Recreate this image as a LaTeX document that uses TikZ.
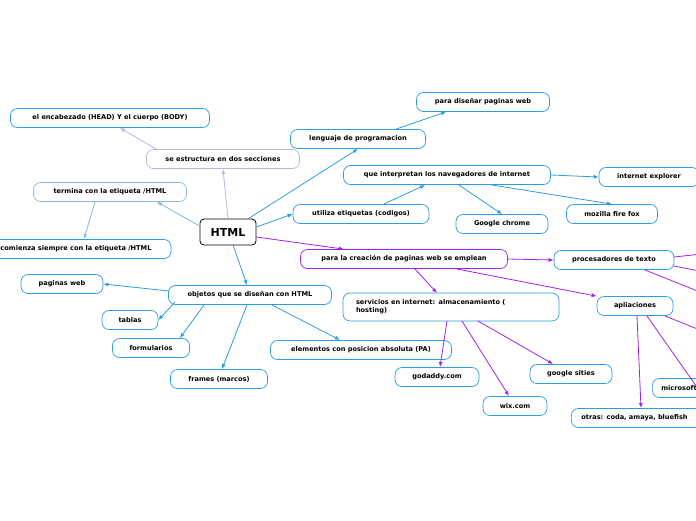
\documentclass[tikz,border=0pt]{standalone}
\usepackage{fontspec}
\setmainfont{DejaVu Sans}
\usetikzlibrary{arrows.meta}
\definecolor{bl}{HTML}{2E9BE0}
\definecolor{lb}{HTML}{86B8E0}
\definecolor{li}{HTML}{BDB4DE}
\definecolor{pu}{HTML}{A020F0}
\tikzset{
 box/.style={draw=bl,line width=0.7pt,fill=white,rounded corners=7pt,minimum height=19pt,inner sep=1pt,font=\bfseries\fontsize{6.6}{7.8}\selectfont,text=black},
 pbox/.style={box,draw=pu},
 lbox/.style={box,draw=li},
 ar/.style={-{Latex[length=5pt,width=4pt]},line width=0.8pt,draw=bl},
 arp/.style={ar,draw=pu},
 arl/.style={ar,draw=li},
 arb/.style={ar,draw=lb},
}
\begin{document}
\begin{tikzpicture}[x=1pt,y=-1pt]
\useasboundingbox (0,0) rectangle (696,520);
\clip (0,0) rectangle (696,520);
\foreach \i in {0,12,...,696}{\foreach \j in {0,12,...,520}{\fill[black!8] (\i,\j) circle (0.5pt);}}
\node[box,draw=black,line width=0.8pt,minimum width=56pt,minimum height=26pt,rounded corners=4pt,font=\bfseries\fontsize{11}{13}\selectfont] (html) at (228,232) {HTML};
\node[box,minimum width=199pt] (head) at (110,118) {el encabezado (HEAD) Y el cuerpo (BODY)};
\node[lbox,minimum width=153pt] (estr) at (223,159) {se estructura en dos secciones};
\node[box,minimum width=135pt] (leng) at (358,139) {lenguaje de programacion};
\node[box,minimum width=133pt] (dise) at (483,102) {para diseñar paginas web};
\node[box,minimum width=207pt] (nave) at (447,175) {que interpretan los navegadores de internet};
\node[box,minimum width=100pt] (ie) at (649,177) {internet explorer};
\node[box,draw=lb,minimum width=153pt] (term) at (110,192) {termina con la etiqueta /HTML};
\node[box,minimum width=190pt] (comi) at (76,249) {comienza siempre con la etiqueta /HTML};
\node[box,minimum width=136pt] (util) at (361,214) {utiliza etiquetas (codigos)};
\node[box,minimum width=92pt] (chro) at (502,224) {Google chrome};
\node[box,minimum width=91pt] (mozi) at (612,214) {mozilla fire fox};
\node[pbox,minimum width=207pt] (para) at (404,259) {para la creación de paginas web se emplean};
\node[box,minimum width=120pt] (proc) at (614,260) {procesadores de texto};
\node[box,minimum width=82pt] (pweb) at (62,284) {paginas web};
\node[box,minimum width=163pt] (obje) at (250,295) {objetos que se diseñan con HTML};
\node[box,minimum width=216pt,minimum height=28pt,text width=190pt,align=left] (serv) at (451,307) {servicios en internet: almacenamiento (\\hosting)};
\node[box,minimum width=76pt] (apli) at (635,306) {apliaciones};
\node[box,minimum width=56pt] (tabl) at (130,320) {tablas};
\node[box,minimum width=77pt] (form) at (151,348) {formularios};
\node[box,minimum width=181pt] (elem) at (361,350) {elementos con posicion absoluta (PA)};
\node[box,minimum width=97pt] (fram) at (219,379) {frames (marcos)};
\node[box,minimum width=84pt] (goda) at (437,377) {godaddy.com};
\node[box,minimum width=82pt] (gsit) at (571,374) {google sities};
\node[box,minimum width=64pt] (wix) at (515,406) {wix.com};
\node[box,minimum width=90pt,text width=80pt,align=left,anchor=west] (micr) at (652,388) {\hspace*{4pt}microsoft word};
\node[box,minimum width=150pt,text width=136pt,align=left,anchor=west] (otra) at (571,418) {\hspace*{3pt}otras: coda, amaya, bluefish};
\coordinate (p1) at (720,252); \coordinate (p2) at (720,275); \coordinate (p3) at (720,300);
\coordinate (a1) at (720,338); \coordinate (a2) at (720,420);
\draw[arl] (html.north) -- (estr.south);
\draw[arl] ([xshift=10pt]estr.north west) -- ([xshift=10pt]head.south);
\draw[arb] ([yshift=6pt]html.west) -- ([xshift=-30pt]term.south east);
\draw[arb] (95,202) -- (84,239);
\draw[ar] ([xshift=-8pt]html.north east) -- (leng.south);
\draw[ar] ([xshift=-30pt]leng.north east) -- ([xshift=30pt]dise.south west);
\draw[ar] ([yshift=5pt]html.east) -- (util.west);
\draw[ar] (384,204) -- (425,185);
\draw[ar] (nave.east) -- (ie.west);
\draw[ar] (459,185) -- (chro.north);
\draw[ar] (492,185) -- (mozi.north);
\draw[arp] ([yshift=-5pt]html.east) -- ([xshift=-60pt]para.north);
\draw[arp] (para.east) -- (proc.west);
\draw[arp] (457,269) -- (apli.north west);
\draw[arp] (415,269) -- (437,293);
\draw[arp] (674,257) -- (p1);
\draw[arp] (674,266) -- (p2);
\draw[arp] (645,270) -- (p3);
\draw[arp] (665,316) -- (a1);
\draw[arp] (647,316) -- (a2);
\draw[arp] (637,316) -- (641,408);
\draw[arp] (447,321) -- (440,367);
\draw[arp] (462,321) -- (509,396);
\draw[arp] (478,321) -- (553,364);
\draw[ar] (233,245) -- (247,285);
\draw[ar] (169,291) -- (pweb.east);
\draw[ar] (175,302) -- (tabl.east);
\draw[ar] (204,305) -- ([xshift=-10pt]form.north east);
\draw[ar] (247,305) -- (222,369);
\draw[ar] (272,305) -- (340,340);
\end{tikzpicture}
\end{document}
